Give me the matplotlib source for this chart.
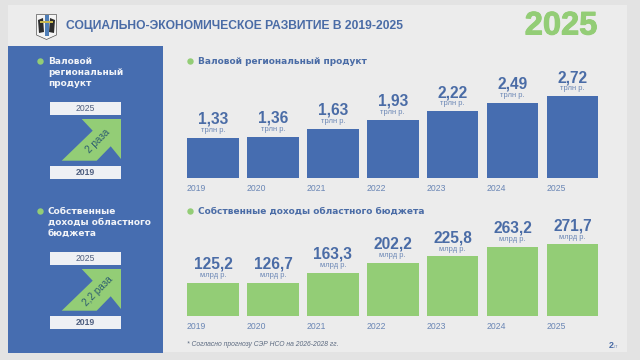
import matplotlib
matplotlib.use("Agg")
import matplotlib.pyplot as plt
import matplotlib.patheffects as pe
from matplotlib.patches import Rectangle, Polygon, Circle
from matplotlib.transforms import ScaledTranslation

years = ["2019", "2020", "2021", "2022", "2023", "2024", "2025"]
grp_values = [1.33, 1.36, 1.63, 1.93, 2.22, 2.49, 2.72]
grp_labels = ["1,33", "1,36", "1,63", "1,93", "2,22", "2,49", "2,72"]
income_values = [125.2, 126.7, 163.3, 202.2, 225.8, 263.2, 271.7]
income_labels = ["125,2", "126,7", "163,3", "202,2", "225,8", "263,2", "271,7"]

BLUE = "#466db0"
TXT = "#4a6ca6"
TICK = "#6a86b5"
GREEN = "#93cd76"
W, H = 640, 360
SANS = "Liberation Sans"
WIDE = "DejaVu Sans"

fig = plt.figure(figsize=(W / 100, H / 100), dpi=100, facecolor="#e3e3e3")
bg = fig.add_axes([0, 0, 1, 1])
bg.set_xlim(0, W)
bg.set_ylim(H, 0)
bg.axis("off")

# slide and left panel
bg.add_patch(Rectangle((8, 5), 619, 347, fc="#ececec", ec="none"))
bg.add_patch(Rectangle((8, 45.5), 155, 307, fc=BLUE, ec="none"))

# title
bg.text(66, 26.5, "СОЦИАЛЬНО-ЭКОНОМИЧЕСКОЕ РАЗВИТИЕ В 2019-2025", family=SANS,
        weight="bold", fontsize=8.72, color=TXT, va="center", ha="left")
bg.text(561, 26, "2025", family=SANS, weight="bold", fontsize=23.5, color=GREEN,
        va="center", ha="center",
        path_effects=[pe.withStroke(linewidth=0.7, foreground=GREEN)])

# emblem (simplified)
bg.add_patch(Polygon([(36.5, 14.5), (56.5, 14.5), (56.5, 35), (46.5, 39.5), (36.5, 35)],
                     fc="#f4f4f4", ec="#555555", lw=0.5))
bg.add_patch(Rectangle((44.5, 15), 4, 21, fc="#4f7fb8", ec="none"))
for pts in ([(38, 20), (43, 18), (44, 32), (39, 33)], [(55, 20), (50, 18), (49, 32), (54, 33)]):
    bg.add_patch(Polygon(pts, fc="#2c2c2c", ec="none"))
bg.add_patch(Rectangle((40, 21), 13, 1.6, fc="#c9b84f", ec="none"))

# section headings
def bullet(x, y):
    bg.add_patch(Circle((x, y), 3.2, fc=GREEN, ec="none"))

def heading(x, y, s, color):
    bg.text(x, y, s, family=WIDE, weight="bold", fontsize=6.5, color=color,
            va="center", ha="left", linespacing=1.28)

bullet(40.5, 61.5)
heading(48, 72.8, "Валовой\nрегиональный\nпродукт", "#f2f4f8")
bullet(40.5, 211.5)
heading(48, 222.8, "Собственные\nдоходы областного\nбюджета", "#f2f4f8")
bullet(190.5, 61.5)
heading(198, 61.5, "Валовой региональный продукт", TXT)
bullet(190.5, 211.5)
heading(198, 211.5, "Собственные доходы областного бюджета", TXT)

# growth blocks
def growth(dy, label):
    for (y0, s, w) in [(102, years[-1], "normal"), (165.5, years[0], "bold")]:
        bg.add_patch(Rectangle((50, y0 + dy), 71, 13, fc="#eef0f4", ec="none"))
        bg.text(85.5, y0 + 6.7 + dy, s, family=SANS, fontsize=6.2, weight=w,
                color="#4f5f80", ha="center", va="center")
    pts = [(121, 119), (81.7, 119), (92.7, 130.7), (61.7, 160.7), (96.7, 160.7),
           (110.7, 146.3), (121, 159)]
    bg.add_patch(Polygon([(x, y + dy) for x, y in pts], fc=GREEN, ec="none"))
    bg.text(98, 141 + dy, label, family=SANS, fontsize=7.2, color="#2f5f70",
            rotation=45, rotation_mode="anchor", ha="center", va="center")

growth(0, "2 раза")
growth(150, "2,2 раза")

# footnote, page number
bg.text(187, 344, "* Согласно прогнозу СЭР НСО на 2026-2028 гг.", family=SANS, style="italic",
        fontsize=4.9, color="#5c6a80", va="center", ha="left")
bg.text(609, 346, "2", family=SANS, weight="bold", fontsize=6.5, color=TXT, va="center", ha="left")
bg.text(613.5, 347, "/7", family=SANS, fontsize=3, color=TXT, va="center", ha="left")

# bar charts
def chart(values, labels, unit, color, baseline, px_per_unit, ymax):
    left, right = 183, 602.5
    height = ymax * px_per_unit
    ax = fig.add_axes([left / W, 1 - baseline / H, (right - left) / W, height / H])
    ax.patch.set_alpha(0)
    xs = range(len(values))
    ax.bar(xs, values, width=0.86, color=color)
    ax.set_xlim(-0.5, 6.5)
    ax.set_ylim(0, ymax)
    ax.set_yticks([])
    ax.set_xticks(list(xs))
    ax.set_xticklabels(years, family=SANS, fontsize=6.2, color=TICK)
    ax.tick_params(axis="x", length=0, pad=4.6)
    for s in ax.spines.values():
        s.set_visible(False)
    for x, v, l in zip(xs, values, labels):
        ax.annotate(l, (x, v), xytext=(0, 13.4), textcoords="offset points", family=SANS,
                    weight="bold", fontsize=11.2, color=TXT, ha="center", va="center")
        ax.annotate(unit, (x, v), xytext=(0, 5.2), textcoords="offset points", family=SANS,
                    fontsize=5.4, color=TICK, ha="center", va="center")
    # year labels sit at the left edge of each bar
    for lbl in ax.get_xticklabels():
        lbl.set_transform(lbl.get_transform() + ScaledTranslation(-16.5 / 100, 0, fig.dpi_scale_trans))

chart(grp_values, grp_labels, "трлн р.", BLUE, 178, 30.1, 3)
chart(income_values, income_labels, "млрд р.", GREEN, 315.8, 0.2628, 300)

fig.savefig("out.png", dpi=100, facecolor=fig.get_facecolor())
